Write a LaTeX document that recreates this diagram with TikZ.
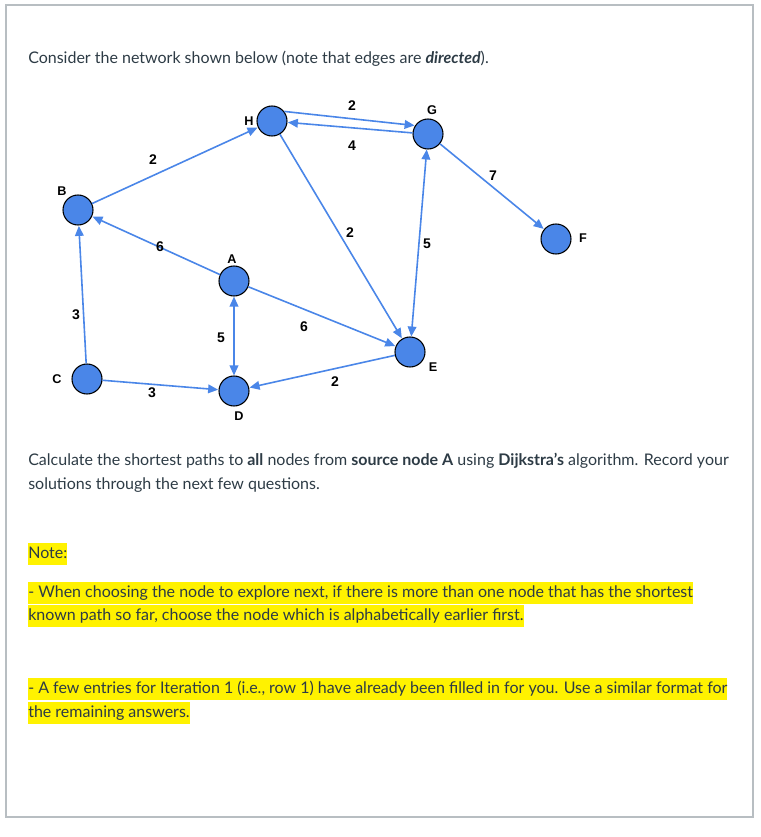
\documentclass[tikz,border=0pt]{standalone}
\usepackage{fontspec}
\setmainfont{Lato}
\newfontfamily\lblfont{Liberation Sans}
\usetikzlibrary{arrows.meta}
\definecolor{nodeblue}{HTML}{4A86E8}
\definecolor{txt}{HTML}{2D3B45}
\definecolor{frame}{HTML}{B8BEC2}
\begin{document}
\begin{tikzpicture}[x=0.75pt,y=-0.75pt,
  vtx/.style={circle,draw=black,line width=0.8pt,fill=nodeblue,minimum size=22.5pt,inner sep=0pt},
  lbl/.style={font=\lblfont\bfseries\fontsize{9.5}{10}\selectfont,inner sep=0pt},
  wt/.style={font=\lblfont\bfseries\fontsize{10.5}{11}\selectfont,inner sep=0pt},
  edge/.style={draw=nodeblue,line width=1.2pt,-{Triangle[length=7.5pt,width=6.5pt]},shorten >=0.3pt},
  bedge/.style={draw=nodeblue,line width=1.2pt,{Triangle[length=7.5pt,width=6.5pt]}-{Triangle[length=7.5pt,width=6.5pt]}},
  para/.style={anchor=base west,inner sep=0pt,text=txt,font=\fontsize{12}{14}\selectfont},
  hl/.style={para,fill=yellow,inner ysep=1.5pt,text height=10pt,text depth=3pt}]
\useasboundingbox (0,0) rectangle (760,837);
\draw[frame,line width=0.8pt] (6,5) rectangle (753,817);

% nodes
\node[vtx] (H) at (272,121) {};
\node[vtx] (G) at (428,134) {};
\node[vtx] (F) at (556,239) {};
\node[vtx] (B) at (78,210) {};
\node[vtx] (A) at (234,281) {};
\node[vtx] (C) at (87,379) {};
\node[vtx] (D) at (234,391) {};
\node[vtx] (E) at (410,352) {};

% node labels
\node[lbl] (lH) at (249,121) {H};
\node[lbl] (lG) at (432,110) {G};
\node[lbl] (lF) at (583,238) {F};
\node[lbl] (lB) at (62,191) {B};
\node[lbl] (lA) at (232,259) {A};
\node[lbl] (lC) at (57,379) {C};
\node[lbl] (lD) at (239,416) {D};
\node[lbl] (lE) at (433,367) {E};

% edges
\draw[edge] (B) -- (H);
\draw[edge] (A) -- (B);
\draw[edge] (A) -- (E);
\draw[edge] (C) -- (B);
\draw[edge] (C) -- (D);
\draw[bedge] (A) -- (D);
\draw[edge] (E) -- (D);
\draw[edge] (H.38) -- (G.147);
\draw[edge] (G.176) -- (H.-5);
\draw[edge] (H) -- (E);
\draw[bedge] (G) -- (E);
\draw[edge] (G) -- (F);

% weights
\node[wt] (wBH) at (153,160) {2};
\node[wt] (wAB) at (160,247) {6};
\node[wt] (wAE) at (304,327) {6};
\node[wt] (wCB) at (76,315) {3};
\node[wt] (wCD) at (152,393) {3};
\node[wt] (wAD) at (221,338) {5};
\node[wt] (wED) at (335,382) {2};
\node[wt] (wHG) at (352,106) {2};
\node[wt] (wGH) at (352,146) {4};
\node[wt] (wHE) at (350,233) {2};
\node[wt] (wGE) at (427,244) {5};
\node[wt] (wGF) at (493,176) {7};

% text
\node[para] (t1) at (28,63.5) {Consider the network shown below (note that edges are \textbf{\textit{directed}}).};
\node[para] (t2) at (28,465.5) {Calculate the shortest paths to \textbf{all} nodes from \textbf{source node A} using \textbf{Dijkstra’s} algorithm. Record your};
\node[para] (t3) at (28,489.5) {solutions through the next few questions.};
\node[hl] (t4) at (28,558.5) {Note:};
\node[hl] (t5) at (28,597.5) {- When choosing the node to explore next, if there is more than one node that has the shortest};
\node[hl] (t6) at (28,620.5) {known path so far, choose the node which is alphabetically earlier first.};
\node[hl] (t7) at (28,693.5) {- A few entries for Iteration 1 (i.e., row 1) have already been filled in for you. Use a similar format for};
\node[hl] (t8) at (28,717.5) {the remaining answers.};
\end{tikzpicture}
\end{document}
